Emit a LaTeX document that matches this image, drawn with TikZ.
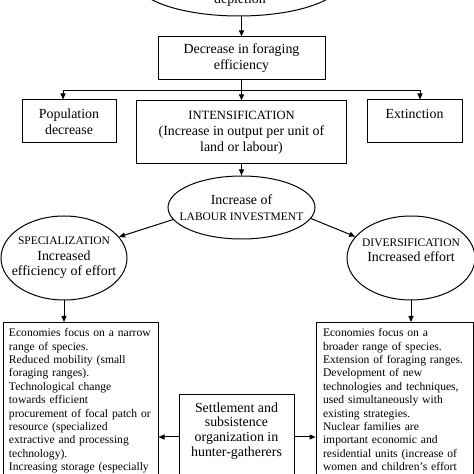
\documentclass[tikz,border=0pt]{standalone}
\usepackage{fontspec}
\setmainfont{Liberation Serif}
\usetikzlibrary{arrows.meta,positioning,shapes.geometric,calc}
\newcommand{\capsz}{\fontsize{11.5}{15}\selectfont}
\tikzset{
  box/.style={rectangle, draw, line width=1pt, align=center, inner sep=0pt,
    font=\fontsize{13.9}{16}\selectfont},
  oval/.style={ellipse, draw, line width=1pt, inner sep=0pt},
  ovaltext/.style={align=center, inner sep=0pt, font=\fontsize{13.9}{15.5}\selectfont},
  listbox/.style={rectangle, draw, line width=1pt, align=left, anchor=north,
    text width=143pt, inner xsep=6pt, inner ysep=6pt, text depth=170pt,
    font=\fontsize{11.6}{13.4}\selectfont},
  arrow/.style={-{Triangle[length=6pt,width=5pt]}, line width=1pt}
}
\begin{document}
\begin{tikzpicture}[x=1pt, y=1pt]
  \clip (0,0) rectangle (474,474);
  % top of the chain
  \node[oval, minimum width=206pt, minimum height=70pt] (dep) at (239,493) {};
  \node[ovaltext, anchor=base] (deptext) at (240,470.5) {depletion};
  \node[box, minimum width=167pt, minimum height=43pt] (dec) at (241.5,415.5) {Decrease in foraging\\efficiency};
  \node[box, minimum width=210pt, minimum height=63pt, below=20pt of dec] (int) {{\fontsize{12.6}{16}\selectfont INTENSIFICATION}\\(Increase in output per unit of\\land or labour)};
  \node[box, minimum width=94pt, minimum height=43pt] (pop) at (69,352.5) {Population\\decrease};
  \node[box, minimum width=95pt, minimum height=43pt] (ext) at (414.5,352.5) {Extinction\\\mbox{}};
  % labour investment and its two ways
  \node[oval, minimum width=147pt, minimum height=63pt, below=11pt of int] (lab) {};
  \node[ovaltext] (labtext) at (lab) {Increase of\\{\capsz LABOUR INVESTMENT}};
  \node[oval, minimum width=126pt, minimum height=84pt] (spec) at (64,216) {};
  \node[ovaltext] (spectext) at (spec) {{\capsz SPECIALIZATION}\\Increased\\efficiency of effort};
  \node[oval, minimum width=128pt, minimum height=84pt] (div) at (411,216) {};
  \node[ovaltext] (divtext) at (div) {{\capsz DIVERSIFICATION}\\Increased effort\\\mbox{}};
  % lower boxes
  \node[listbox] (econS) at (80.5,152) {Economies focus on a narrow\\range of species.\\Reduced mobility (small\\foraging ranges).\\Technological change\\towards efficient\\procurement of focal patch or\\resource (specialized\\extractive and processing\\technology).\\Increasing storage (especially};
  \node[listbox, inner xsep=7pt] (econD) at (394.5,152) {Economies focus on a\\broader range of species.\\Extension of foraging ranges.\\Development of new\\technologies and techniques,\\used simultaneously with\\existing strategies.\\Nuclear families are\\important economic and\\residential units (increase of\\women and children’s effort};
  \node[box, anchor=north, minimum width=115pt, inner ysep=8pt, text depth=90pt,
    font=\fontsize{13.9}{14.8}\selectfont] (settle) at (236.5,80) {Settlement and\\subsistence\\organization in\\hunter-gatherers};
  \coordinate (midy) at (236.5,37);
  % connectors
  \draw[arrow] (dec.north |- dep.south) -- (dec.north);
  \draw (dec.south) -- ++(0,-10) coordinate (split);
  \draw[arrow] (split) -- (int.north);
  \draw[arrow] (split) -| ([xshift=-6pt]pop.north);
  \draw[arrow] (split) -| ([xshift=5.5pt]ext.north);
  \draw[arrow] (int.south) -- (int.south |- lab.north);
  \draw[arrow] (lab.190) -- (spec.21);
  \draw[arrow] (lab.351) -- (div.159);
  \draw[arrow] (spec.south) -- (spec.south |- econS.north);
  \draw[arrow] (div.south) -- (div.south |- econD.north);
  \draw[arrow] (settle.west |- midy) -- (econS.east |- midy);
  \draw[arrow] (settle.east |- midy) -- (econD.west |- midy);
\end{tikzpicture}
\end{document}
